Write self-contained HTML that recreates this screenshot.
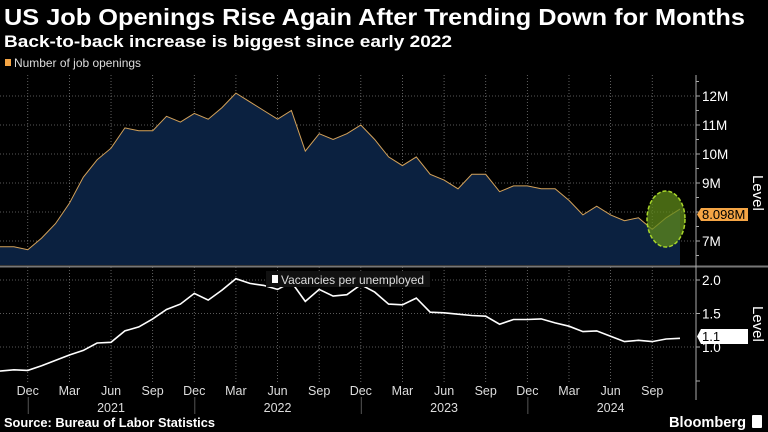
<!DOCTYPE html>
<html><head><meta charset="utf-8"><style>
body{margin:0;background:#000;width:768px;height:432px;overflow:hidden;font-family:"Liberation Sans",sans-serif}
svg{display:block}
</style></head><body>
<svg id="s" width="768" height="432" xmlns="http://www.w3.org/2000/svg" font-family="Liberation Sans, sans-serif">
<rect width="768" height="432" fill="#000"/>
<text x="4" y="25" fill="#fff" font-size="23" font-weight="bold" textLength="741" lengthAdjust="spacingAndGlyphs">US Job Openings Rise Again After Trending Down for Months</text>
<text x="4" y="47" fill="#fff" font-size="17" font-weight="bold" textLength="448" lengthAdjust="spacingAndGlyphs">Back-to-back increase is biggest since early 2022</text>
<rect x="5" y="59" width="6" height="7" fill="#f5a545"/>
<text x="14" y="67" fill="#ddd" font-size="12" textLength="127" lengthAdjust="spacingAndGlyphs">Number of job openings</text>
<g id="g"></g>
<text x="4" y="427" fill="#fff" font-size="13" font-weight="bold" textLength="211" lengthAdjust="spacingAndGlyphs">Source: Bureau of Labor Statistics</text>
<text x="669" y="427" fill="#fff" font-size="15" font-weight="bold" textLength="77" lengthAdjust="spacingAndGlyphs">Bloomberg</text>
<rect x="752" y="415" width="10" height="13" rx="1" fill="#fff"/>
</svg>
<script>
const A=[6.8,6.8,6.7,7.1,7.6,8.3,9.2,9.8,10.2,10.9,10.8,10.8,11.3,11.1,11.4,11.2,11.6,12.1,11.8,11.5,11.2,11.5,10.1,10.7,10.5,10.7,11.0,10.5,9.9,9.6,9.9,9.3,9.1,8.8,9.3,9.3,8.7,8.9,8.9,8.8,8.8,8.4,7.9,8.2,7.9,7.7,7.8,7.4,7.8,8.1];
const B=[0.64,0.66,0.65,0.72,0.8,0.88,0.95,1.06,1.07,1.24,1.3,1.42,1.56,1.64,1.8,1.7,1.85,2.02,1.95,1.92,1.86,1.97,1.68,1.86,1.76,1.78,1.93,1.82,1.64,1.63,1.73,1.52,1.51,1.49,1.47,1.46,1.34,1.41,1.41,1.42,1.36,1.31,1.23,1.24,1.16,1.08,1.1,1.08,1.12,1.13];
const dx=680/49;const X=i=>i*dx;
const ya=v=>96+(12-v)*29, yb=v=>347-(v-1)*67;
let h='';
const gs='stroke="#777" stroke-dasharray="1,2" stroke-width="0.8"';
for(let v=7;v<=12;v++)h+=`<line x1="0" x2="696" y1="${ya(v)}" y2="${ya(v)}" ${gs}/>`;
[1,1.5,2].forEach(v=>h+=`<line x1="0" x2="696" y1="${yb(v)}" y2="${yb(v)}" ${gs}/>`);
const m=['Dec','Mar','Jun','Sep'];
for(let k=0;k<16;k++){const x=X(2+3*k);h+=`<line x1="${x}" x2="${x}" y1="75" y2="383" ${gs}/>`;
h+=`<text x="${x}" y="395" fill="#ddd" font-size="12.5" text-anchor="middle">${m[k%4]}</text>`;}
[[2021,8],[2022,20],[2023,32],[2024,44]].forEach(([y,i])=>h+=`<text x="${X(i)}" y="412" fill="#ddd" font-size="12.5" text-anchor="middle">${y}</text>`);
for(let k=0;k<4;k++){const x=X(2+12*k)+0.5;h+=`<line x1="${x}" x2="${x}" y1="397" y2="414" stroke="#555"/>`;}
let p=A.map((v,i)=>`${X(i).toFixed(1)},${ya(v).toFixed(1)}`).join(' ');
h+=`<polygon points="0,265 ${p} 680,265" fill="#0b2140"/>`;
h+=`<polyline points="${p}" fill="none" stroke="#d4a25a" stroke-width="1"/>`;
h+=`<ellipse cx="666" cy="219" rx="19" ry="28" fill="#5f8a1a" fill-opacity="0.75" stroke="#a8d62a" stroke-width="1.5" stroke-dasharray="4,2"/>`;
let q=B.map((v,i)=>`${X(i).toFixed(1)},${yb(v).toFixed(1)}`).join(' ');
h+=`<polyline points="${q}" fill="none" stroke="#fff" stroke-width="1.6"/>`;
h+=`<rect x="266" y="271" width="164" height="16" fill="#111"/><rect x="272" y="275" width="6" height="8" fill="#fff"/><text x="281" y="284" fill="#ddd" font-size="12" textLength="143" lengthAdjust="spacingAndGlyphs">Vacancies per unemployed</text>`;
h+=`<line x1="0" x2="768" y1="266.5" y2="266.5" stroke="#777" stroke-width="2"/>`;
h+=`<line x1="696" x2="696" y1="75" y2="400" stroke="#aaa"/>`;
for(let v=6.5;v<=12.5;v+=0.5){const y=ya(v);h+=`<line x1="696" x2="${v%1?699:700}" y1="${y}" y2="${y}" stroke="#aaa"/>`;}
for(let v=7;v<=12;v++)if(v!=8)h+=`<text x="702" y="${ya(v)+5}" fill="#fff" font-size="13.5">${v}M</text>`;
[[2,'2.0'],[1.5,'1.5'],[1,'1.0']].forEach(([v,t])=>{h+=`<line x1="696" x2="700" y1="${yb(v)}" y2="${yb(v)}" stroke="#aaa"/><text x="702" y="${yb(v)+5}" fill="#fff" font-size="13.5">${t}</text>`;});
h+=`<line x1="696" x2="700" y1="381" y2="381" stroke="#aaa"/>`;
h+=`<polygon points="697,214.5 701,208 748,208 748,221 701,221" fill="#f5a545"/><text x="702" y="219" fill="#000" font-size="13">8.098M</text>`;
h+=`<polygon points="697,336.5 701,329 748,329 748,344 701,344" fill="#fff"/><text x="702" y="341" fill="#000" font-size="13">1.1</text>`;
h+=`<text transform="translate(753,175) rotate(90)" fill="#fff" font-size="15">Level</text>`;
h+=`<text transform="translate(753,306) rotate(90)" fill="#fff" font-size="15">Level</text>`;
document.getElementById('g').innerHTML=h;
</script>
</body></html>
